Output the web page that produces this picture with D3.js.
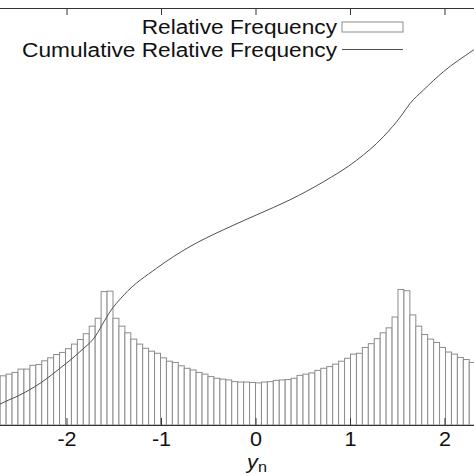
<!DOCTYPE html>
<html>
<head>
<meta charset="utf-8">
<script src="https://cdn.jsdelivr.net/npm/d3@7"></script>
<style>
  html, body { margin: 0; padding: 0; background: #fff; }
  svg { display: block; font-family: "Liberation Sans", Arial, Helvetica, sans-serif; }
</style>
</head>
<body>
<div id="chart"></div>
<script>
// histogram: 100 bins over [-pi, pi], only bins 7..86 are inside the picture
const binCount = 100;
const firstBin = 7;
const relFreq = [
  0.118, 0.122, 0.126, 0.134, 0.134, 0.143, 0.145, 0.154, 0.161, 0.169,
  0.174, 0.183, 0.194, 0.205, 0.219, 0.237, 0.256, 0.320, 0.321, 0.256,
  0.237, 0.221, 0.206, 0.194, 0.184, 0.177, 0.172, 0.161, 0.153, 0.150,
  0.142, 0.136, 0.132, 0.126, 0.122, 0.116, 0.112, 0.110, 0.108, 0.104,
  0.103, 0.103, 0.102, 0.101, 0.103, 0.104, 0.107, 0.108, 0.109, 0.112,
  0.119, 0.122, 0.125, 0.131, 0.136, 0.140, 0.146, 0.153, 0.160, 0.170,
  0.172, 0.186, 0.195, 0.207, 0.221, 0.233, 0.259, 0.325, 0.322, 0.264,
  0.237, 0.217, 0.206, 0.198, 0.186, 0.175, 0.170, 0.162, 0.157, 0.150
];

// cumulative relative frequency
const cumX = [-2.75, -2.704, -2.492, -2.280, -2.069, -1.857, -1.688, -1.603, -1.550,
  -1.392, -1.046, -0.693, -0.341, 0.013, 0.365, 0.717, 1.071, 1.352, 1.547,
  1.635, 1.776, 1.987, 2.305, 2.35];
const cumY = [0.044, 0.050, 0.072, 0.100, 0.136, 0.176, 0.215, 0.248, 0.268,
  0.312, 0.376, 0.428, 0.468, 0.504, 0.540, 0.583, 0.635, 0.691, 0.743,
  0.771, 0.803, 0.847, 0.899, 0.906];

const xTicks = [-2, -1, 0, 1, 2];
const legendLabels = ['Relative Frequency', 'Cumulative Relative Frequency'];

const width = 474, height = 474;
const stretch = 1.08; // glyphs in the source are a bit wide
const x = d3.scaleLinear().domain([-Math.PI, Math.PI])
  .range([255.5 - 94.5 * Math.PI, 255.5 + 94.5 * Math.PI]);
const y = d3.scaleLinear().domain([0, 1]).range([425, 8]);
const binW = 2 * Math.PI / binCount;

const svg = d3.select('#chart').append('svg')
  .attr('width', width).attr('height', height);

// bars
const bars = relFreq.map((v, i) => ({ x0: -Math.PI + (firstBin + i) * binW, v }));
svg.append('g').selectAll('rect').data(bars).enter().append('rect')
  .attr('x', d => x(d.x0))
  .attr('y', d => y(d.v))
  .attr('width', d => x(d.x0 + binW) - x(d.x0))
  .attr('height', d => y(0) - y(d.v))
  .attr('fill', '#fff')
  .attr('stroke', '#8c8c8c')
  .attr('stroke-width', 1);

// cumulative line
const line = d3.line().curve(d3.curveMonotoneX)
  .x(d => x(d[0])).y(d => y(d[1]));
svg.append('path')
  .datum(cumX.map((v, i) => [v, cumY[i]]))
  .attr('d', line)
  .attr('fill', 'none')
  .attr('stroke', '#505050')
  .attr('stroke-width', 1);

// axes
const axisB = svg.append('g').attr('transform', `translate(0,${y(0)})`)
  .call(d3.axisBottom(x).tickValues(xTicks).tickSize(-7).tickSizeOuter(0)
    .tickPadding(7).tickFormat(d => String(d)));
const axisT = svg.append('g').attr('transform', `translate(0,${y(1)})`)
  .call(d3.axisTop(x).tickValues(xTicks).tickSize(-7).tickSizeOuter(0)
    .tickFormat(''));
[axisB, axisT].forEach(g => {
  g.select('.domain').attr('stroke', '#333').attr('stroke-width', 1.2);
  g.selectAll('.tick line').attr('stroke', '#333');
});
axisB.selectAll('.tick text')
  .attr('font-size', 20).attr('fill', '#111')
  .attr('font-family', '"Liberation Sans", Arial, sans-serif')
  .attr('transform', `scale(${stretch},1)`);

// x label
const xl = svg.append('g').attr('transform', `translate(257,0) scale(${stretch},1)`)
  .append('text')
  .attr('x', 0).attr('y', 469)
  .attr('text-anchor', 'middle')
  .attr('font-size', 20).attr('fill', '#111');
xl.append('tspan').attr('font-style', 'italic').text('y');
xl.append('tspan').attr('font-size', 15).attr('dy', 3).text('n');

// legend
const lg = svg.append('g');
lg.append('g').attr('transform', `translate(337,0) scale(${stretch},1)`)
  .selectAll('text').data(legendLabels).enter().append('text')
  .attr('x', 0).attr('y', (d, i) => 34 + i * 23)
  .attr('text-anchor', 'end')
  .attr('font-size', 21).attr('fill', '#111')
  .text(d => d);
lg.append('rect').attr('x', 342).attr('y', 22).attr('width', 61).attr('height', 10)
  .attr('fill', '#fff').attr('stroke', '#8c8c8c');
lg.append('line').attr('x1', 342).attr('x2', 403).attr('y1', 49.5).attr('y2', 49.5)
  .attr('stroke', '#505050');
</script>
</body>
</html>
